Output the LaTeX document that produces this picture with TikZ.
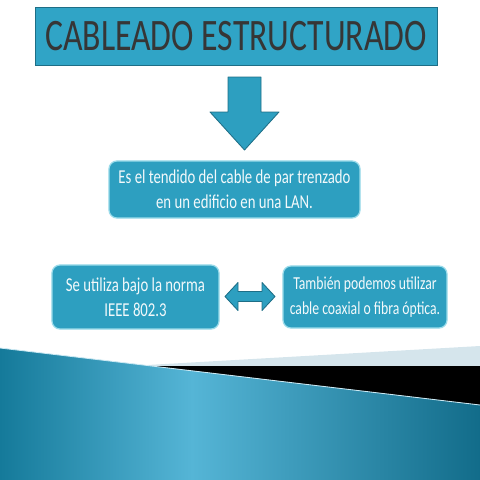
\documentclass[tikz,border=0pt]{standalone}
\usepackage{fontspec}
\setmainfont{Carlito}[FakeStretch=0.75]
\definecolor{boxblue}{HTML}{2D9FC0}
\definecolor{titleblue}{HTML}{30A4C6}
\definecolor{darkedge}{HTML}{1E6E86}
\definecolor{lightedge}{HTML}{9ADBEA}
\definecolor{titletext}{HTML}{363636}
\definecolor{bandgray}{HTML}{D5E5EC}
\definecolor{seadark}{HTML}{157A9A}
\definecolor{sealight}{HTML}{55B5D6}
\definecolor{seadeep}{HTML}{126C8A}
\pgfdeclarehorizontalshading{sea}{100bp}{color(0bp)=(seadark); color(25bp)=(seadark);
  color(45bp)=(sealight); color(75bp)=(seadeep); color(100bp)=(seadeep)}
\begin{document}
\begin{tikzpicture}[x=0.025cm,y=-0.025cm,
  titlebox/.style={draw=darkedge,line width=0.6pt,fill=titleblue,text=titletext,
    minimum width=10.05cm,minimum height=1.45cm,inner sep=0pt,
    font=\fontsize{32}{36}\selectfont},
  infobox/.style={draw=lightedge,line width=0.9pt,fill=boxblue,rounded corners=0.2cm,
    text=white!94!boxblue,align=center,inner sep=0pt,
    font=\fontsize{14}{17.5}\selectfont},
  blockarrow/.style={draw=darkedge,line width=0.6pt,fill=boxblue,line join=round}]
\useasboundingbox (0,0) rectangle (480,480);
% bottom of the slide
\fill[bandgray] (130,366) -- (480,346) -- (480,366) -- cycle;
\fill[black] (150,366) -- (480,366) -- (480,405) -- cycle;
\shade[shading=sea] (0,348) -- (480,405) -- (480,480) -- (0,480) -- cycle;
\draw[white!70!sealight,line width=0.6pt] (0,348) -- (480,405);
% boxes
\node[titlebox] (title) at (236,36) {CABLEADO ESTRUCTURADO};
\node[infobox,minimum width=6.275cm,minimum height=1.425cm] (what) at (234.5,189.5)
  {Es el tendido del cable de par trenzado\\en un edificio en una LAN.};
\node[infobox,minimum width=4.175cm,minimum height=1.6cm] (norm) at (135.5,297)
  {Se utiliza bajo la norma\\IEEE 802.3};
\node[infobox,minimum width=4.1cm,minimum height=1.55cm,font=\fontsize{13}{17.5}\selectfont]
  (other) at (365,297) {También podemos utilizar\\cable coaxial o fibra óptica.};
% arrows
\coordinate (down) at (244.5,77);
\draw[blockarrow] (down) ++(-16.5,0) -- ++(33,0) -- ++(0,35) -- ++(18,0)
  -- ++(-34.5,38) -- ++(-34.5,-38) -- ++(18,0) -- cycle;
\coordinate (both) at (250,296.5);
\draw[blockarrow] (both) ++(-25,0) -- ++(13,-14) -- ++(0,9) -- ++(24,0)
  -- ++(0,-9) -- ++(13,14) -- ++(-13,14) -- ++(0,-9) -- ++(-24,0)
  -- ++(0,9) -- cycle;
\end{tikzpicture}
\end{document}
